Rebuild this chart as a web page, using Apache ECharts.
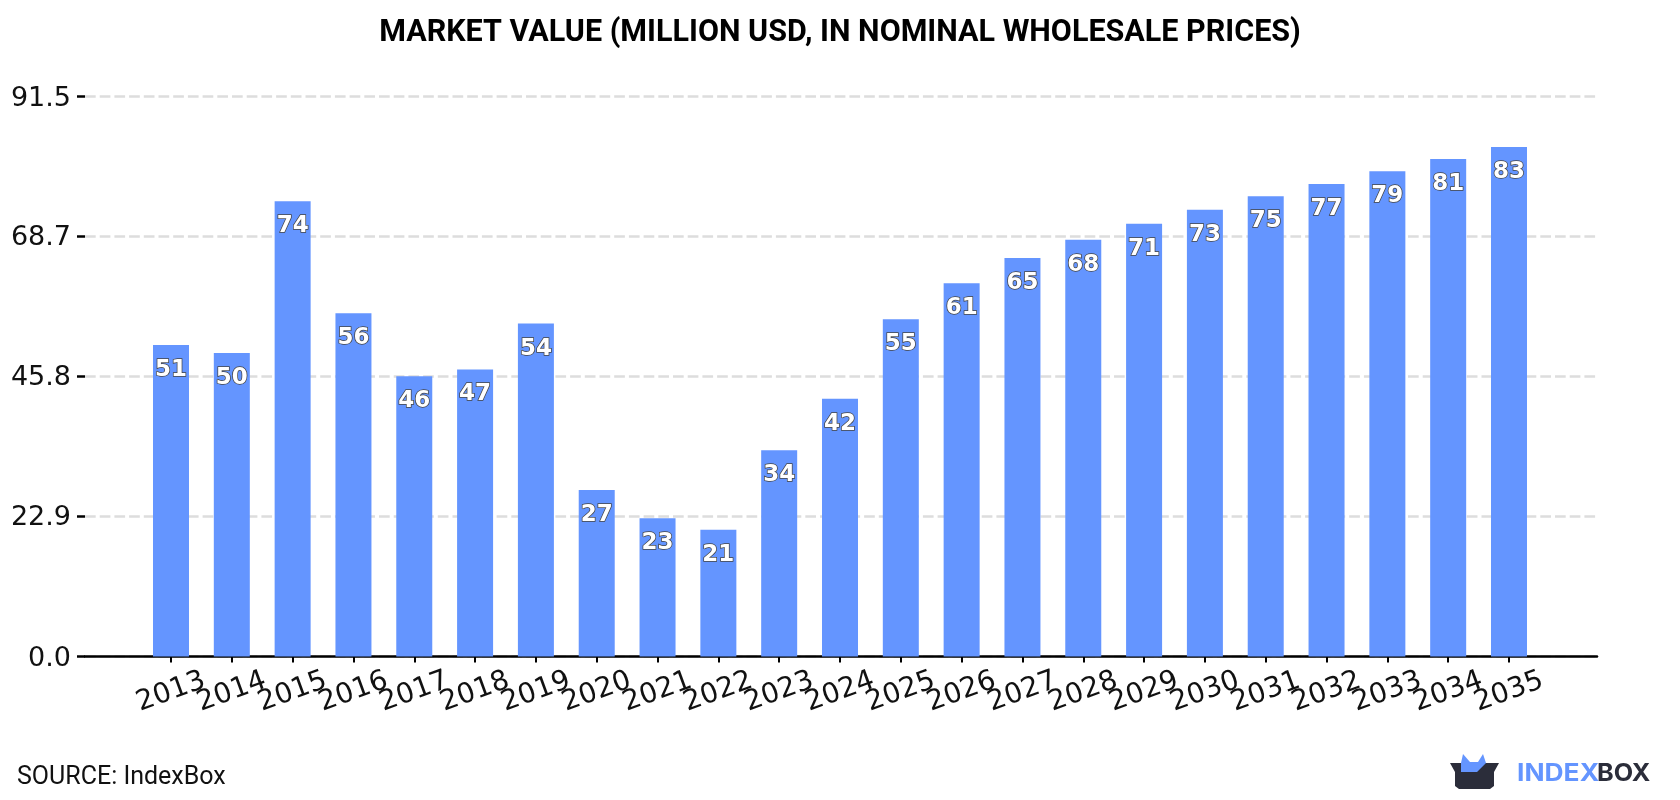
<!DOCTYPE html>
<html>
<head>
<meta charset="utf-8">
<style>html,body{margin:0;padding:0;background:#fff}#chart{width:1680px;height:800px}</style>
<script src="https://cdn.jsdelivr.net/npm/echarts@6/dist/echarts.min.js"></script>
</head>
<body>
<div id="chart"></div>
<script>
// Market value by year, with forecast years through 2035
const years = [2013,2014,2015,2016,2017,2018,2019,2020,2021,2022,2023,2024,2025,2026,2027,2028,2029,2030,2031,2032,2033,2034,2035];
const marketValue = [50.9,49.6,74.4,56.1,45.8,46.9,54.4,27.2,22.6,20.7,33.7,42.1,55.1,61,65.1,68.1,70.7,73,75.2,77.2,79.3,81.3,83.25];
const valueTicks = [0,22.9,45.8,68.7,91.5];
const titleText = 'MARKET VALUE (MILLION USD, IN NOMINAL WHOLESALE PRICES)';
const sourceText = 'SOURCE: IndexBox';

// Horizontal extent of the year axis; wider than the bars on both sides
const xMin = 2011.586, xMax = 2036.447;

const chart = echarts.init(document.getElementById('chart'), null, {renderer:'canvas'});
chart.setOption({
  animation:false,
  backgroundColor:'#fff',
  title:{
    text:titleText,left:835,top:13,textAlign:'center',
    textStyle:{fontFamily:'Roboto',fontWeight:'bold',fontSize:30.5,color:'#000'}
  },
  grid:{left:85,right:83,top:96.5,bottom:143.5,containLabel:false},
  xAxis:{
    type:'value',min:xMin,max:xMax,
    splitLine:{show:false},
    axisLine:{show:true,lineStyle:{color:'#000',width:2.5}},
    axisTick:{show:true,customValues:years,length:6,lineStyle:{color:'#000',width:2}},
    axisLabel:{
      // Blank end labels keep the overlap check from dropping the outer years
      customValues:[xMin,...years,xMax],rotate:20,margin:35.5,interval:0,
      showMinLabel:true,showMaxLabel:true,hideOverlap:false,
      align:'center',verticalAlign:'middle',
      fontFamily:'DejaVu Sans',fontSize:28,color:'#111',
      formatter:v=>Number.isInteger(v)?String(v):''
    }
  },
  yAxis:{
    type:'value',min:0,max:91.5,
    axisLine:{show:false},
    axisTick:{show:true,customValues:valueTicks,length:8,lineStyle:{color:'#000',width:2.5}},
    axisLabel:{customValues:valueTicks,margin:14,verticalAlign:'top',lineHeight:4,fontFamily:'DejaVu Sans',fontSize:27,color:'#111',formatter:v=>v.toFixed(1)},
    splitLine:{show:true,lineStyle:{color:'#ddd',width:2.5,type:[10.7,4]}}
  },
  series:[{
    type:'bar',barWidth:36,
    data:years.map((y,i)=>[y,marketValue[i]]),
    itemStyle:{color:'#6495ff'},
    label:{
      show:true,position:'insideTop',distance:13.5,
      formatter:p=>String(Math.round(p.value[1])),
      fontFamily:'DejaVu Sans',fontWeight:'bold',fontSize:23,color:'#fff',
      textBorderColor:'#444',textBorderWidth:1.5
    },
    z:3
  }],
  graphic:[
    {type:'text',left:17,top:765,style:{text:sourceText,font:'25px Roboto',fill:'#111'}},
    {type:'polygon',shape:{points:[[1450,763],[1499,763],[1494,772],[1494,786],[1490,789],[1459,789],[1455,786],[1455,772]]},style:{fill:'#2b2d3a'}},
    {type:'polygon',shape:{points:[[1461,772],[1461,763],[1463,754],[1470,762],[1478,762],[1483,754],[1486,763],[1477,772]]},style:{fill:'#6495ff'}},
    {type:'text',x:1517,y:762,scaleX:1.1,style:{text:'INDEX',font:'bold 24px Inter',fill:'#6495ff'}},
    {type:'text',x:1597,y:762,scaleX:1.05,style:{text:'BOX',font:'bold 24px Inter',fill:'#2b2d3a'}}
  ]
});
</script>
</body>
</html>
